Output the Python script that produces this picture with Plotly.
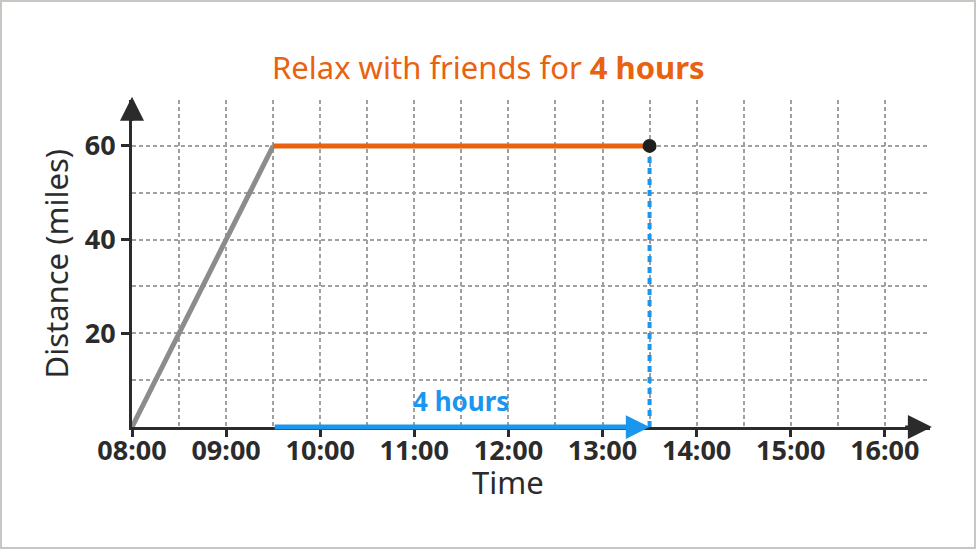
import plotly.graph_objects as go

# journey data (hours after midnight, miles)
times = [8, 9.5, 13.5]
distance = [0, 60, 60]
hour_ticks = [8, 9, 10, 11, 12, 13, 14, 15, 16]
hour_labels = ["08:00", "09:00", "10:00", "11:00", "12:00", "13:00", "14:00", "15:00", "16:00"]
dist_ticks = [20, 40, 60]
relax_start = 9.5
relax_end = 13.5
relax_label = "4 hours"

FONT = "Noto Sans"
DARK = "#2b2b2b"
GRID = "#a0a0a0"
ORANGE = "#e8620f"
BLUE = "#1a96ee"
GRID_DASH = "4px,3px"

# plot area size in pixels, used only for the outer frame
PW, PH = 798, 327

fig = go.Figure()

# driving there
fig.add_trace(go.Scatter(x=times[:2], y=distance[:2], mode="lines",
                         line=dict(color="#8c8c8c", width=5), hoverinfo="skip"))
# relaxing
fig.add_trace(go.Scatter(x=times[1:], y=distance[1:], mode="lines",
                         line=dict(color=ORANGE, width=5), hoverinfo="skip"))
# drop line down to the time axis
fig.add_trace(go.Scatter(x=[relax_end, relax_end], y=[distance[2], 0], mode="lines",
                         line=dict(color=BLUE, width=4, dash="6px,5px"), hoverinfo="skip"))
# end point
fig.add_trace(go.Scatter(x=[times[2]], y=[distance[2]], mode="markers",
                         marker=dict(color="#1e1e1e", size=14), hoverinfo="skip"))

# blue duration arrow along the x axis
fig.add_annotation(x=relax_end, y=0, ax=relax_start, ay=0, xref="x", yref="y",
                   axref="x", ayref="y", showarrow=True, arrowhead=2, arrowsize=0.95,
                   arrowwidth=5, arrowcolor=BLUE, standoff=0, startstandoff=0, text="")
fig.add_annotation(x=(relax_start + relax_end) / 2, y=5.5, xref="x", yref="y",
                   text="<b>" + relax_label + "</b>", showarrow=False,
                   font=dict(family=FONT, size=26, color=BLUE))

# axis arrows
fig.add_annotation(x=16.5, y=0, ax=16.2, ay=0, xref="x", yref="y", axref="x", ayref="y",
                   showarrow=True, arrowhead=2, arrowsize=1.6, arrowwidth=3,
                   arrowcolor=DARK, standoff=0, text="")
fig.add_annotation(x=8, y=70.5, ax=8, ay=65, xref="x", yref="y", axref="x", ayref="y",
                   showarrow=True, arrowhead=2, arrowsize=1.6, arrowwidth=3,
                   arrowcolor=DARK, standoff=0, text="")

# titles (main title is centred on the whole picture, not the plot area)
fig.add_annotation(x=0.5, y=1.0, xref="paper", yref="paper", yanchor="bottom",
                   xshift=-43, yshift=10,
                   text="Relax with friends for <b>4 hours</b>", showarrow=False,
                   font=dict(family=FONT, size=31, color=ORANGE))
fig.add_annotation(x=12, y=0, xref="x", yref="paper", yanchor="top", yshift=-33,
                   borderpad=0,
                   text="Time", showarrow=False, font=dict(family=FONT, size=31, color=DARK))
fig.add_annotation(x=0, y=0.5, xref="paper", yref="paper", xanchor="right", xshift=-54,
                   text="Distance (miles)", textangle=-90, showarrow=False,
                   font=dict(family=FONT, size=31, color=DARK))

# frame round the picture
fig.add_shape(type="rect", xref="paper", yref="paper",
              x0=-131 / PW, x1=1 + 45 / PW, y0=-121 / PH, y1=1 + 99 / PH,
              line=dict(color="#c9c5c0", width=2))

fig.update_xaxes(range=[8, 16.48], tickvals=hour_ticks, ticktext=hour_labels,
                 showline=True, linecolor=DARK, linewidth=3, zeroline=False,
                 ticks="outside", ticklen=7, tickwidth=3, tickcolor=DARK,
                 ticklabelstandoff=-9,
                 tickfont=dict(family=FONT, size=27, color=DARK, weight="bold"),
                 showgrid=True, gridcolor=GRID, gridwidth=1.5, griddash=GRID_DASH,
                 minor=dict(dtick=0.5, showgrid=True, gridcolor=GRID, gridwidth=1.5,
                            griddash=GRID_DASH, ticks=""))
fig.update_yaxes(range=[0, 69.8], tickvals=dist_ticks,
                 showline=True, linecolor=DARK, linewidth=3, zeroline=False,
                 ticks="outside", ticklen=8, tickwidth=3, tickcolor=DARK,
                 tickfont=dict(family=FONT, size=27, color=DARK, weight="bold"),
                 showgrid=True, gridcolor=GRID, gridwidth=1.5, griddash=GRID_DASH,
                 minor=dict(dtick=10, showgrid=True, gridcolor=GRID, gridwidth=1.5,
                            griddash=GRID_DASH, ticks=""))

fig.update_layout(width=976, height=549, showlegend=False,
                  margin=dict(l=132, r=46, t=100, b=122),
                  plot_bgcolor="white", paper_bgcolor="white",
                  font=dict(family=FONT, color=DARK))

# the page body has an 8px margin by default; drop it so the figure sits at 0,0
fig.write_html("out.html", config={"displayModeBar": False},
               post_script="document.body.style.margin = '0';")
